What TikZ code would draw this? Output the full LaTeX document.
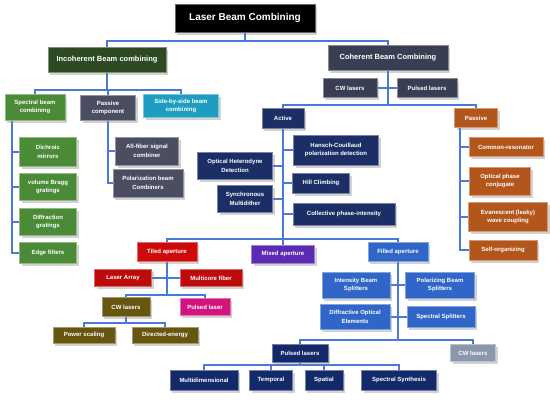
\documentclass[tikz,border=0pt]{standalone}
\usepackage{fontspec}
\setsansfont{Liberation Sans}
\usetikzlibrary{shadows,backgrounds}

\definecolor{linkblue}{HTML}{4A7AD8}
\definecolor{ibcgreen}{HTML}{2E4A22}
\definecolor{sbgreen}{HTML}{4B8A36}
\definecolor{pcgray}{HTML}{4B4E60}
\definecolor{sbscyan}{HTML}{1F9DC0}
\definecolor{cohgray}{HTML}{393E52}
\definecolor{actnavy}{HTML}{1B2E66}
\definecolor{pasorange}{HTML}{B3561B}
\definecolor{tilred}{HTML}{CF0A0A}
\definecolor{arrred}{HTML}{BD0A0A}
\definecolor{mixpurple}{HTML}{5B2BB4}
\definecolor{filblue}{HTML}{2F66C8}
\definecolor{cwolive}{HTML}{675610}
\definecolor{pulmagenta}{HTML}{D2157C}
\definecolor{pulnavy}{HTML}{14296A}
\definecolor{cwsteel}{HTML}{8B97AC}

\begin{document}
\begin{tikzpicture}[x=1pt,y=-1pt]
\tikzset{blk/.style={draw=#1!60!white, fill=#1, line width=0.8pt, text=white, align=center, inner sep=1pt,
    font=\sffamily\bfseries\fontsize{6}{8.5}\selectfont,
    drop shadow={shadow xshift=2pt, shadow yshift=-3pt, opacity=0.35}},
  sz/.style 2 args={minimum width=#1pt, minimum height=#2pt},
  link/.style={draw=linkblue, line width=1.3pt}}

\useasboundingbox (0,0) rectangle (550,401);

% top levels
\node[blk=black, sz={140}{28}, font=\sffamily\bfseries\fontsize{10}{12}\selectfont] (top) at (245,18) {Laser Beam Combining};
\node[blk=ibcgreen, sz={118}{25}, font=\sffamily\bfseries\fontsize{7.5}{9}\selectfont] (ibc) at (107,60) {Incoherent Beam combining};
\node[blk=cohgray, sz={120}{25}, font=\sffamily\bfseries\fontsize{7.5}{9}\selectfont] (cbc) at (388,58) {Coherent Beam Combining};

% incoherent
\node[blk=sbgreen, sz={60}{26}] (spec) at (35,107) {Spectral beam\\combining};
\node[blk=pcgray, sz={55}{25}] (passc) at (108,108) {Passive\\component};
\node[blk=sbscyan, sz={75}{23}] (side) at (181,106) {Side-by-side beam\\combining};
\node[blk=sbgreen, sz={57}{29}] (dich) at (48,152) {Dichroic\\mirrors};
\node[blk=sbgreen, sz={57}{27}] (vbg) at (48,187) {volume Bragg\\gratings};
\node[blk=sbgreen, sz={57}{27}] (dg) at (48,222) {Diffraction\\gratings};
\node[blk=sbgreen, sz={57}{21}] (edge) at (48,253) {Edge filters};
\node[blk=pcgray, sz={63}{28}] (allf) at (147,151) {All-fiber signal\\combiner};
\node[blk=pcgray, sz={70}{28}] (polc) at (148,183) {Polarization beam\\Combiners};

% coherent
\node[blk=cohgray, sz={54}{19}] (cw1) at (350,88) {CW lasers};
\node[blk=cohgray, sz={60}{19}] (pul1) at (427,88) {Pulsed lasers};
\node[blk=actnavy, sz={42}{20}] (active) at (283,118) {Active};
\node[blk=pasorange, sz={43}{19}] (passv) at (476,118) {Passive};
\node[blk=actnavy, sz={85}{30}] (hansch) at (336,150) {Hansch-Couillaud\\polarization detection};
\node[blk=actnavy, sz={57}{20}] (hill) at (321,183) {Hill Climbing};
\node[blk=actnavy, sz={102}{22}] (coll) at (344,214) {Collective phase-intensity};
\node[blk=actnavy, sz={75}{27}] (ohd) at (235,166) {Optical Heterodyne\\Detection};
\node[blk=actnavy, sz={55}{27}] (smd) at (245,199) {Synchronous\\Multidither};
\node[blk=pasorange, sz={74}{19}] (commr) at (506,147) {Common-resonator};
\node[blk=pasorange, sz={61}{28}] (opc) at (500,181) {Optical phase\\conjugate};
\node[blk=pasorange, sz={79}{29}] (evan) at (508,217) {Evanescent (leaky)\\wave coupling};
\node[blk=pasorange, sz={68}{20}] (selfo) at (503,250) {Self-organizing};

% apertures
\node[blk=tilred, sz={60}{19}] (tiled) at (167,252) {Tiled aperture};
\node[blk=mixpurple, sz={63}{18}] (mixed) at (283,254) {Mixed aperture};
\node[blk=filblue, sz={60}{19}] (filled) at (398,252) {Filled aperture};
\node[blk=arrred, sz={57}{17}] (larr) at (123,278) {Laser Array};
\node[blk=arrred, sz={62}{17}] (mcf) at (211,278) {Multicore fiber};
\node[blk=cwolive, sz={48}{19}] (cw2) at (126,307) {CW lasers};
\node[blk=pulmagenta, sz={50}{17}] (pul2) at (205,307) {Pulsed laser};
\node[blk=cwolive, sz={62}{16}] (pwr) at (84,335) {Power scaling};
\node[blk=cwolive, sz={66}{16}] (dir) at (165,335) {Directed-energy};
\node[blk=filblue, sz={68}{26}] (isp) at (356,285) {Intensity Beam\\Splitters};
\node[blk=filblue, sz={69}{26}] (pbs) at (440,285) {Polarizing Beam\\Splitters};
\node[blk=filblue, sz={70}{25}] (doe) at (355,317) {Diffractive Optical\\Elements};
\node[blk=filblue, sz={68}{21}] (ssp) at (441,317) {Spectral Splitters};
\node[blk=pulnavy, sz={56}{18}] (pul3) at (300,353) {Pulsed lasers};
\node[blk=cwsteel, sz={45}{17}] (cw3) at (473,353) {CW lasers};
\node[blk=pulnavy, sz={68}{20}] (multi) at (204,380) {Multidimensional};
\node[blk=pulnavy, sz={43}{20}] (temp) at (271,380) {Temporal};
\node[blk=pulnavy, sz={38}{20}] (spat) at (324,380) {Spatial};
\node[blk=pulnavy, sz={75}{20}] (ssyn) at (399,380) {Spectral Synthesis};

% connectors
\coordinate (j0) at (245,41);
\coordinate (j1) at (107,90);
\coordinate (sp0) at (12,107);
\coordinate (j2) at (388,105);
\coordinate (j3) at (283,239);
\coordinate (pv0) at (460,118);
\coordinate (j4) at (167,295);
\coordinate (j5) at (126,323);
\coordinate (j6) at (398,340);
\coordinate (j7) at (300,365);

\begin{scope}[on background layer]
\fill[white] (0,0) rectangle (550,401);
\draw[link] (top) -- (j0) -| (ibc);
\draw[link] (j0) -| (cbc);
\draw[link] (ibc) -- (j1) -| (spec);
\draw[link] (j1) -| (passc);
\draw[link] (j1) -| (side);
\foreach \n in {dich,vbg,dg,edge} \draw[link] (sp0) |- (\n);
\foreach \n in {allf,polc} \draw[link] (passc) |- (\n);
\draw[link] (cbc) -- (j2) -| (active);
\draw[link] (j2) -| (passv);
\draw[link] (cw1) -- (pul1);
\foreach \n in {hansch,hill,coll,ohd,smd} \draw[link] (active) |- (\n);
\draw[link] (active) -- (mixed);
\draw[link] (j3) -| (tiled);
\draw[link] (j3) -| (filled);
\foreach \n in {commr,opc,evan,selfo} \draw[link] (pv0) |- (\n);
\draw[link] (tiled) -- (j4) -| (cw2);
\draw[link] (j4) -| (pul2);
\draw[link] (larr) -- (mcf);
\draw[link] (cw2) -- (j5) -| (pwr);
\draw[link] (j5) -| (dir);
\draw[link] (filled) -- (j6) -| (pul3);
\draw[link] (j6) -| (cw3);
\draw[link] (isp) -- (pbs);
\draw[link] (doe) -- (ssp);
\draw[link] (pul3) -- (j7) -| (multi);
\foreach \n in {temp,spat,ssyn} \draw[link] (j7) -| (\n);
\end{scope}
\end{tikzpicture}
\end{document}
